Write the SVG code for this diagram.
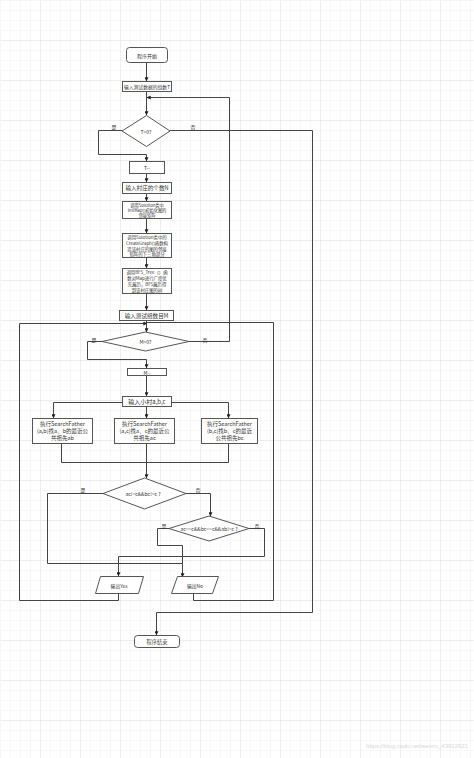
<svg xmlns="http://www.w3.org/2000/svg" width="474" height="758" viewBox="0 0 474 758">
<defs>
<pattern id="minor" width="10" height="10" patternUnits="userSpaceOnUse">
<path d="M10 0H0V10" fill="none" stroke="#f1f1f1" stroke-width="1"/>
</pattern>
<pattern id="major" width="40" height="40" patternUnits="userSpaceOnUse">
<rect width="40" height="40" fill="url(#minor)"/>
<path d="M40 0H0V40" fill="none" stroke="#e3e3e3" stroke-width="1"/>
</pattern>
<marker id="ah" viewBox="0 0 6 6" refX="5.5" refY="3" markerWidth="4" markerHeight="4" orient="auto" markerUnits="userSpaceOnUse">
<path d="M0 0L6 3L0 6Z" fill="#222"/>
</marker>
</defs>
<style>
.n{fill:#fff;stroke:#555;stroke-width:1}
.t{font-family:"Noto Sans CJK SC","Noto Sans",sans-serif;fill:#333;text-anchor:middle;dominant-baseline:central}
.c{fill:none;stroke:#444;stroke-width:1}
.a{marker-end:url(#ah)}
.l{font-family:"Noto Sans CJK SC",sans-serif;fill:#333;font-size:5px;dominant-baseline:central;text-anchor:middle}
</style>
<rect width="474" height="758" fill="#fff"/>
<rect x="0.5" y="0.5" width="474" height="758" fill="url(#major)"/>

<g id="connectors">
<path class="c a" d="M146.5 63V81"/>
<path class="c a" d="M146.5 91V115"/>
<path class="c a" d="M189 341.5H229.5V97.5H147"/>
<path class="c a" d="M122 130.5H98.5V154.5H146.5V161"/>
<path class="c a" d="M170 130.5H312.5V612.5H156.5V635"/>
<path class="c a" d="M146.5 174V182"/>
<path class="c a" d="M146.5 193V201"/>
<path class="c a" d="M146.5 218V233"/>
<path class="c a" d="M146.5 257V268"/>
<path class="c a" d="M146.5 293V310"/>
<path class="c a" d="M146.5 320V332"/>
<path class="c a" d="M102 341.5H87.5V359.5H146.5V368"/>
<path class="c a" d="M146.5 375V396"/>
<path class="c a" d="M122 402.5H53.5V418"/>
<path class="c a" d="M146.5 406V418"/>
<path class="c a" d="M171 402.5H228.5V418"/>
<path class="c" d="M61.5 443V462.5H146.5"/>
<path class="c" d="M228.5 443V462.5H146.5"/>
<path class="c a" d="M146.5 443V478"/>
<path class="c a" d="M103 493.5H47.5V563.5H182.5V577"/>
<path class="c a" d="M186 493.5H210.5V516"/>
<path class="c" d="M169 528.5H157.5V545.5H182.5V563.5"/>
<path class="c a" d="M249 528.5H264.5V556.5H118.5V576"/>
<path class="c a" d="M118.5 593V600.5H19.5V323.5H147"/>
<path class="c" d="M193.5 593V600.5H273.5V322.5H147"/>
<text class="l" x="114" y="126">是</text>
<text class="l" x="193" y="126">否</text>
<text class="l" x="94" y="339">是</text>
<text class="l" x="205" y="339">否</text>
<text class="l" x="83" y="489">是</text>
<text class="l" x="198" y="489">否</text>
<text class="l" x="164" y="525">是</text>
<text class="l" x="257" y="525">否</text>
</g>

<g id="start"><rect class="n" x="126.5" y="47.5" width="41" height="15" rx="3"/><text class="t" x="147" y="55" font-size="5">程序开始</text></g>
<g id="inputT"><rect class="n" x="122.5" y="81.5" width="49" height="10"/><text class="t" x="147" y="86.5" font-size="4.8">输入测试数据的组数T</text></g>
<g id="condT"><path class="n" d="M146.5 115.5L170 131L146.5 146.5L122 131Z"/><text class="t" x="146" y="131" font-size="5">T&gt;0?</text></g>
<g id="decT"><rect class="n" x="129.5" y="161.5" width="35" height="12"/><text class="t" x="147" y="167.5" font-size="5">T--</text></g>
<g id="inputN"><rect class="n" x="122.5" y="182.5" width="49" height="11"/><text class="t" x="147" y="188" font-size="5.6">输入村庄的个数N</text></g>
<g id="initMap"><rect class="n" x="122.5" y="201.5" width="49" height="17"/><text class="t" x="147" font-size="4.2"><tspan x="147" y="204.6">调用Solution类中</tspan><tspan x="147" y="210">initMap()初始化图的</tspan><tspan x="147" y="215.4">邻接矩阵</tspan></text></g>
<g id="createGraph"><rect class="n" x="122.5" y="233.5" width="49" height="24"/><text class="t" x="147" font-size="4.4"><tspan x="147" y="237.2">调用Solution类中的</tspan><tspan x="147" y="242.9">CreateGraph()函数构</tspan><tspan x="147" y="248.6">造该村庄的图的邻接</tspan><tspan x="147" y="254.3">矩阵的下三角部分</tspan></text></g>
<g id="bfs"><rect class="n" x="122.5" y="268.5" width="49" height="25"/><text class="t" x="147" font-size="4.4"><tspan x="147" y="272.3">调用BFS_Tree（）函</tspan><tspan x="147" y="278.1">数对Map进行广度优</tspan><tspan x="147" y="283.9">先遍历，BFS遍历得</tspan><tspan x="147" y="289.7">到该村庄图的树</tspan></text></g>
<g id="inputM"><rect class="n" x="119.5" y="310.5" width="54" height="10"/><text class="t" x="146.5" y="315.5" font-size="5.6">输入测试组数目M</text></g>
<g id="condM"><path class="n" d="M145.5 332L189 341.5L145.5 351L102 341.5Z"/><text class="t" x="145.5" y="341.5" font-size="5">M&gt;0?</text></g>
<g id="decM"><rect class="n" x="127.5" y="368.5" width="39" height="7"/><text class="t" x="147" y="372" font-size="4.8">M--</text></g>
<g id="inputABC"><rect class="n" x="122.5" y="396.5" width="49" height="10"/><text class="t" x="147" y="401.5" font-size="6">输入小村a,b,c</text></g>
<g id="sfAB"><rect class="n" x="32.5" y="418.5" width="60" height="25"/><text class="t" font-size="5.5"><tspan x="62.5" y="424">执行SearchFather</tspan><tspan x="62.5" y="431">(a,b)找a、b的最近公</tspan><tspan x="62.5" y="438">共祖先ab</tspan></text></g>
<g id="sfAC"><rect class="n" x="114.5" y="418.5" width="60" height="25"/><text class="t" font-size="5.5"><tspan x="144.5" y="424">执行SearchFather</tspan><tspan x="144.5" y="431">(a,c)找a、c的最近公</tspan><tspan x="144.5" y="438">共祖先ac</tspan></text></g>
<g id="sfBC"><rect class="n" x="201.5" y="418.5" width="56" height="25"/><text class="t" font-size="5.5"><tspan x="229.5" y="424">执行SearchFather</tspan><tspan x="229.5" y="431">(b,c)找b、c的最近</tspan><tspan x="229.5" y="438">公共祖先bc</tspan></text></g>
<g id="cond1"><path class="n" d="M144.5 478L186 493.5L144.5 509L103 493.5Z"/><text class="t" x="143" y="493.5" font-size="5">ac!=c&amp;&amp;bc!=c ?</text></g>
<g id="cond2"><path class="n" d="M209 516L249 528.5L209 541L169 528.5Z"/><text class="t" x="209" y="528.5" font-size="5">ac==c&amp;&amp;bc==c&amp;&amp;ab!=c ?</text></g>
<g id="outYes"><path class="n" d="M100.5 576.5H143.5L138.5 593.5H95.5Z"/><text class="t" x="119" y="585" font-size="4.8">输出Yes</text></g>
<g id="outNo"><path class="n" d="M177.5 576.5H218.5L212.5 593.5H171.5Z"/><text class="t" x="195" y="585" font-size="4.8">输出No</text></g>
<g id="end"><rect class="n" x="134.5" y="635.5" width="45" height="12" rx="3"/><text class="t" x="157" y="641.5" font-size="5.2">程序结束</text></g>
<text x="468" y="748" font-family="Liberation Sans,sans-serif" font-size="6" fill="#d8d8d8" text-anchor="end">https://blog.csdn.net/weixin_43912621</text>
</svg>
